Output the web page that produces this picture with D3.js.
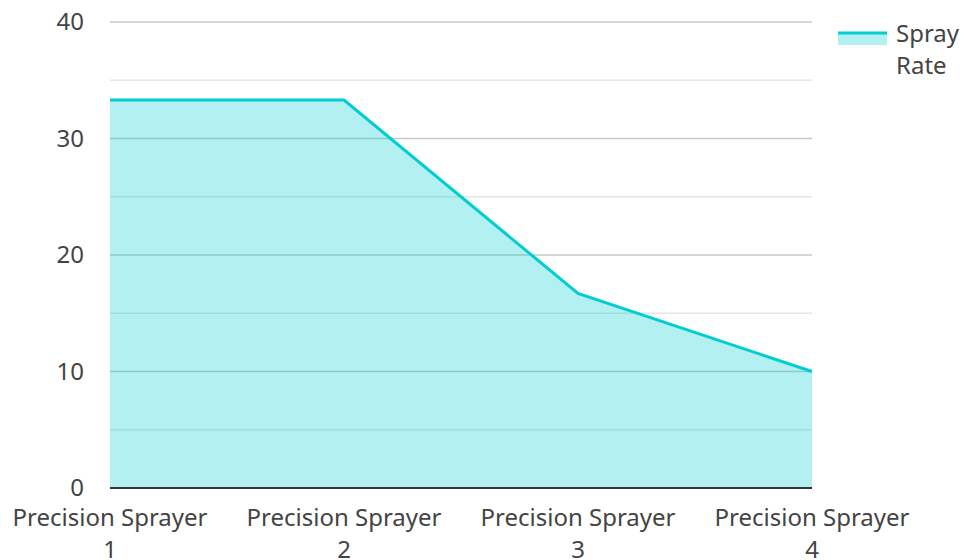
<!DOCTYPE html>
<html>
<head>
<meta charset="utf-8">
<script src="https://cdn.jsdelivr.net/npm/d3@7"></script>
<style>
	body { margin: 0; background: #fff; }
	text { font-family: "Noto Sans", "Open Sans", sans-serif; fill: #444; }
</style>
</head>
<body>
<div id="chart"></div>
<script>
var categories = ["Precision Sprayer 1", "Precision Sprayer 2", "Precision Sprayer 3", "Precision Sprayer 4"];
var sprayRate = [33.3, 33.3, 16.7, 10];
var yTicks = [0, 10, 20, 30, 40];
var seriesName = ["Spray", "Rate"];

var w = 962, h = 560;
var padLeft = 110, padRight = 812, padTop = 22, padBottom = 488;
var color = "#00ced1";
var fontSize = 24;

var svg = d3.select("#chart").append("svg")
	.attr("width", w)
	.attr("height", h);

var x = d3.scalePoint()
	.domain(categories)
	.range([padLeft, padRight]);

var y = d3.scaleLinear()
	.domain([0, 40])
	.range([padBottom, padTop]);

// gridlines: major every 10, minor every 5
svg.append("g")
	.selectAll("line")
	.data(d3.range(5, 40, 10))
	.enter().append("line")
	.attr("x1", padLeft).attr("x2", padRight)
	.attr("y1", d => y(d)).attr("y2", d => y(d))
	.attr("stroke", "#e6e6e6").attr("stroke-width", 1.5);

svg.append("g")
	.selectAll("line")
	.data(yTicks.slice(1))
	.enter().append("line")
	.attr("x1", padLeft).attr("x2", padRight)
	.attr("y1", d => y(d)).attr("y2", d => y(d))
	.attr("stroke", "#c8c8c8").attr("stroke-width", 1.5);

var data = categories.map(function (c, i) { return { cat: c, v: sprayRate[i] }; });

var area = d3.area()
	.x(d => x(d.cat))
	.y0(y(0))
	.y1(d => y(d.v));

var line = d3.line()
	.x(d => x(d.cat))
	.y(d => y(d.v));

svg.append("path")
	.datum(data)
	.attr("d", area)
	.attr("fill", color)
	.attr("fill-opacity", 0.3);

svg.append("path")
	.datum(data)
	.attr("d", line)
	.attr("fill", "none")
	.attr("stroke", color)
	.attr("stroke-width", 3);

// y axis labels
var yAxis = d3.axisLeft(y)
	.tickValues(yTicks)
	.tickSize(0)
	.tickPadding(26);

var yg = svg.append("g")
	.attr("transform", "translate(" + padLeft + ",0)")
	.call(yAxis);
yg.select(".domain").remove();
yg.selectAll("text")
	.attr("font-size", fontSize)
	.attr("font-family", null)
	.attr("fill", "#444");

// x axis baseline
svg.append("line")
	.attr("x1", padLeft).attr("x2", padRight)
	.attr("y1", y(0)).attr("y2", y(0))
	.attr("stroke", "#333").attr("stroke-width", 2);

// x labels, wrapped over two lines
var xl = svg.append("g")
	.selectAll("text")
	.data(categories)
	.enter().append("text")
	.attr("text-anchor", "middle")
	.attr("font-size", fontSize)
	.attr("transform", d => "translate(" + x(d) + "," + (y(0) + 38) + ")");

xl.append("tspan")
	.attr("x", 0)
	.text(d => d.substring(0, d.lastIndexOf(" ")));
xl.append("tspan")
	.attr("x", 0)
	.attr("dy", 32)
	.text(d => d.substring(d.lastIndexOf(" ") + 1));

// legend
var lg = svg.append("g").attr("transform", "translate(838,32)");
lg.append("rect")
	.attr("x", 0).attr("y", 0)
	.attr("width", 49).attr("height", 13)
	.attr("fill", color).attr("fill-opacity", 0.3);
lg.append("line")
	.attr("x1", 0).attr("x2", 49)
	.attr("y1", 1).attr("y2", 1)
	.attr("stroke", color).attr("stroke-width", 3);
lg.selectAll("text.lab")
	.data(seriesName)
	.enter().append("text")
	.attr("class", "lab")
	.attr("x", 58)
	.attr("y", (d, i) => 10 + i * 32)
	.attr("font-size", fontSize)
	.text(d => d);
</script>
</body>
</html>
